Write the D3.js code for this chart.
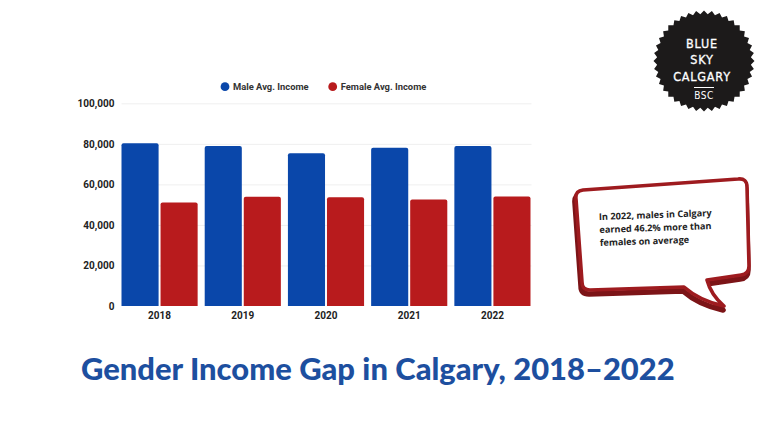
<!DOCTYPE html>
<html>
<head>
<meta charset="utf-8">
<script src="https://cdn.jsdelivr.net/npm/d3@7"></script>
<style>
  html, body { margin: 0; padding: 0; background: #fff; }
  svg { display: block; }
</style>
</head>
<body>
<div id="chart"></div>
<script>
// data
const years = ["2018", "2019", "2020", "2021", "2022"];
const maleIncome = [80300, 78900, 75300, 78100, 78900];
const femaleIncome = [51000, 53900, 53600, 52500, 54000];
const seriesNames = ["Male Avg. Income", "Female Avg. Income"];
const yTicks = [0, 20000, 40000, 60000, 80000, 100000];
const titleText = "Gender Income Gap in Calgary, 2018\u20132022";
const noteLines = ["In 2022, males in Calgary", "earned 46.2% more than", "females on average"];
const logoLines = ["BLUE", "SKY", "CALGARY"];

const width = 768, height = 432;
const plot = {left: 121.5, right: 530.5, top: 103.3, bottom: 306};
const colors = ["#0a47aa", "#b81b1d"];
const labelFont = "Roboto, 'Open Sans', sans-serif";

const svg = d3.select("#chart").append("svg")
    .attr("width", width).attr("height", height)
    .attr("viewBox", [0, 0, width, height]);

// scales
const x0 = d3.scaleBand().domain(years)
    .range([plot.left, plot.right]).paddingInner(0.085).paddingOuter(0);
const x1 = d3.scaleBand().domain([0, 1])
    .range([0, x0.bandwidth()]).paddingInner(0.05);
const y = d3.scaleLinear().domain([0, 100000]).range([plot.bottom, plot.top]);

// gridlines + y labels
const yAxis = svg.append("g")
    .attr("transform", `translate(${plot.left},0)`)
    .call(d3.axisLeft(y).tickValues(yTicks)
        .tickSize(-(plot.right - plot.left + 1))
        .tickPadding(7)
        .tickFormat(d3.format(",")));
yAxis.select(".domain").remove();
yAxis.selectAll(".tick line").attr("stroke", "#efefef").attr("stroke-width", 1)
    .filter(d => d === 0).remove();
yAxis.selectAll(".tick text")
    .attr("font-family", labelFont).attr("font-weight", 700)
    .attr("font-size", 10).attr("fill", "#222");

// bars
const rows = years.map((yr, i) => ({yr, vals: [maleIncome[i], femaleIncome[i]]}));
const groups = svg.append("g").selectAll("g")
    .data(rows).join("g")
    .attr("transform", d => `translate(${x0(d.yr)},0)`);
groups.selectAll("path")
    .data(d => d.vals.map((v, k) => ({v, k})))
    .join("path")
    .attr("fill", d => colors[d.k])
    .attr("d", d => {
        const bx = x1(d.k), bw = x1.bandwidth(), top = y(d.v), r = 2;
        return `M${bx},${plot.bottom}V${top + r}Q${bx},${top} ${bx + r},${top}` +
            `H${bx + bw - r}Q${bx + bw},${top} ${bx + bw},${top + r}V${plot.bottom}Z`;
    });

// x labels
const xAxis = svg.append("g")
    .attr("transform", `translate(0,${plot.bottom})`)
    .call(d3.axisBottom(x0).tickSize(0).tickPadding(6));
xAxis.select(".domain").remove();
xAxis.selectAll(".tick text")
    .attr("font-family", labelFont).attr("font-weight", 700)
    .attr("font-size", 10).attr("fill", "#222");

// legend
const legendX = [225, 332.7];
const legend = svg.append("g").selectAll("g")
    .data(seriesNames).join("g")
    .attr("transform", (d, i) => `translate(${legendX[i]},86.7)`);
legend.append("circle").attr("r", 4.4).attr("fill", (d, i) => colors[i]);
legend.append("text").attr("x", 8).attr("dy", "0.35em")
    .attr("font-family", labelFont).attr("font-weight", 700)
    .attr("font-size", 9.4).attr("fill", "#333")
    .text(d => d);

// title
const title = svg.append("text")
    .attr("x", 81).attr("y", 379.5)
    .attr("font-family", "Lato, 'Open Sans', sans-serif").attr("font-weight", 900)
    .attr("font-size", 24).attr("fill", "#1d4f9f")
    .text(titleText);
const tw = title.node().getComputedTextLength();
title.attr("font-size", 24 * 594 / tw);

// speech bubble
const bubble = "M583,190 L738,179 Q747,178 747,187 L749,266 Q749,274 741,275 " +
    "L707,280 Q711,295 724,306 Q700,301 684,287 L590,290 Q582,290 582,282 " +
    "L576,199 Q575,191 583,190 Z";
svg.append("path").attr("d", bubble)
    .attr("transform", "translate(-1,4)")
    .attr("fill", "none").attr("stroke", "#7c1417").attr("stroke-width", 5.5)
    .attr("stroke-linejoin", "round");
svg.append("path").attr("d", bubble)
    .attr("fill", "#fff").attr("stroke", "#9e1b1f").attr("stroke-width", 3.6)
    .attr("stroke-linejoin", "round");
svg.append("g")
    .attr("transform", "rotate(-2,599,220)")
    .selectAll("text").data(noteLines).join("text")
    .attr("x", 599).attr("y", (d, i) => 220 + i * 13)
    .attr("font-family", "'Open Sans', sans-serif").attr("font-weight", 700)
    .attr("font-size", 9.2).attr("fill", "#222")
    .text(d => d);

// logo: serrated black seal
const cx = 704, cy = 61, teeth = 40;
const sealPts = d3.range(teeth * 2).map(i => {
    const a = i * Math.PI / teeth, r = i % 2 ? 47 : 50.5;
    return [cx + r * Math.sin(a), cy - r * Math.cos(a)];
});
svg.append("path").attr("d", d3.line().curve(d3.curveLinearClosed)(sealPts))
    .attr("fill", "#1c1a1a");
const logoFont = "'DejaVu Sans Condensed', 'Liberation Sans Narrow', sans-serif";
svg.append("g").selectAll("text").data(logoLines).join("text")
    .attr("x", 702).attr("y", (d, i) => 47.5 + i * 16.5)
    .attr("text-anchor", "middle")
    .attr("font-family", logoFont).attr("font-size", 12.5).attr("font-weight", 500)
    .attr("letter-spacing", 0.8).attr("fill", "#fff")
    .attr("stroke", "#fff").attr("stroke-width", 0.3)
    .text(d => d);
svg.append("line").attr("x1", 694).attr("x2", 714).attr("y1", 87.5).attr("y2", 87.5)
    .attr("stroke", "#fff").attr("stroke-width", 1);
svg.append("text").attr("x", 704).attr("y", 99.3)
    .attr("text-anchor", "middle")
    .attr("font-family", logoFont).attr("font-size", 10)
    .attr("letter-spacing", 0.5).attr("fill", "#fff")
    .text("BSC");
</script>
</body>
</html>
